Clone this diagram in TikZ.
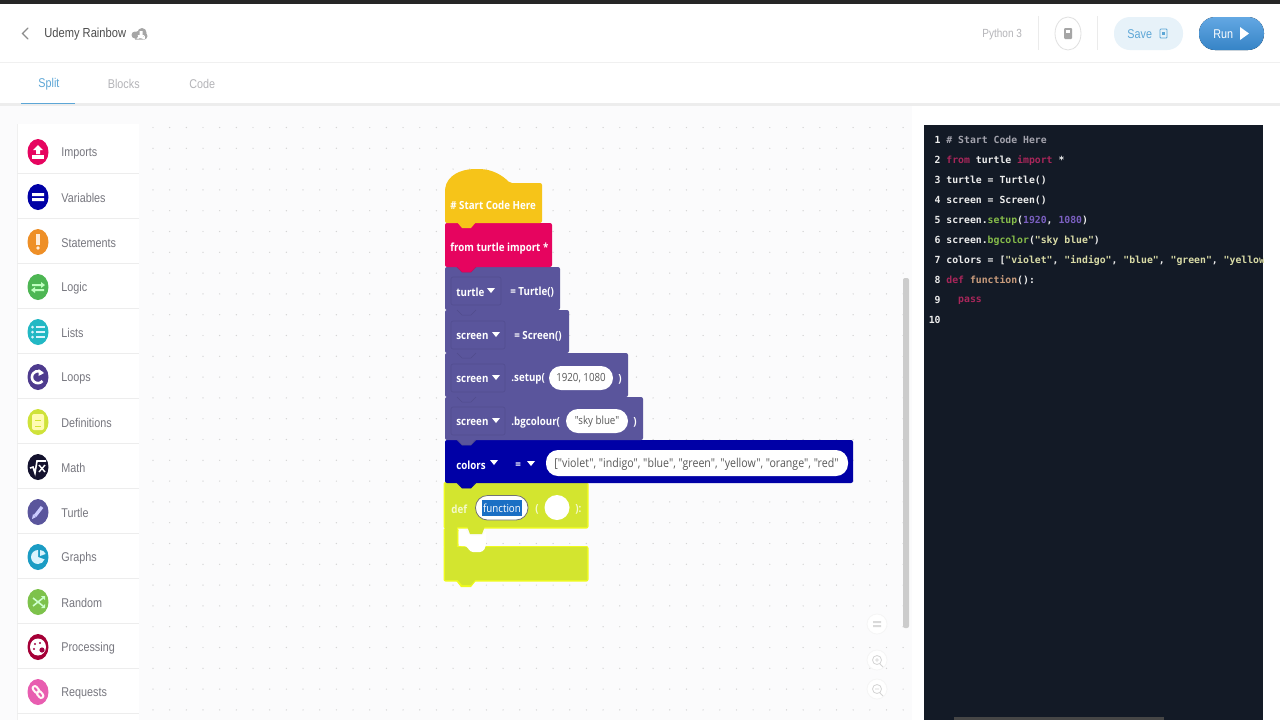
\documentclass[tikz,border=0pt]{standalone}
\usepackage{fontspec}
\setmainfont[FakeStretch=0.85]{Liberation Sans}
\setmonofont{DejaVu Sans Mono}
\newfontfamily\blockfont[FakeStretch=0.87]{Open Sans}
\definecolor{pagebg}{HTML}{FBFBFC}
\definecolor{hatyellow}{HTML}{F6C419}
\definecolor{importpink}{HTML}{E6045F}
\definecolor{turtlepurple}{HTML}{5A559C}
\definecolor{fielddark}{HTML}{524D90}
\definecolor{varblue}{HTML}{0000A6}
\definecolor{defgreen}{HTML}{D3E52F}
\definecolor{defedge}{HTML}{EEFA1E}
\definecolor{selblue}{HTML}{1A6FC4}
\definecolor{uiblue}{HTML}{5CA6D6}
\definecolor{runblue}{HTML}{3C92DC}
\definecolor{uigray}{HTML}{B4B4B8}
\definecolor{rowtext}{HTML}{77777F}
\definecolor{codebg}{HTML}{131A26}
\definecolor{codewhite}{HTML}{EDEDED}
\definecolor{codekey}{HTML}{A8265A}
\definecolor{codegreen}{HTML}{86BC4A}
\definecolor{codenum}{HTML}{7A5FC0}
\definecolor{codestr}{HTML}{D9DBA6}
\definecolor{codefun}{HTML}{C99C7C}
\definecolor{codenote}{HTML}{A3A3AD}
\tikzset{
    uitext/.style={anchor=west, inner sep=0pt, yshift=-0.4pt, font=\fontsize{6.35}{7}\selectfont},
    rowlabel/.style={uitext, text=rowtext},
    blocktext/.style={anchor=west, inner sep=0pt, yshift=-0.5pt, text=white, font=\blockfont\bfseries\fontsize{5.6}{6}\selectfont},
    slottext/.style={anchor=center, inner sep=0pt, text=black!65, font=\blockfont\fontsize{5.6}{6}\selectfont},
    codeline/.style={anchor=west, inner sep=0pt, yshift=-0.4pt, text=codewhite, font=\ttfamily\bfseries\fontsize{4.9}{6}\selectfont},
    codenumber/.style={anchor=east, inner sep=0pt, yshift=-0.4pt, text=codewhite, font=\ttfamily\bfseries\fontsize{4.9}{6}\selectfont}
}
\newcommand{\blockbody}[5]{%
    \fill[#1, rounded corners=1pt] (#2,#3) rectangle (#4,#5);
    \fill[#1] (457,#5-1) -- (462,#5+5) -- (471,#5+5) -- (476,#5-1) -- cycle;
    \draw[#1!90!black, line width=0.25pt] (457,#5) -- (462,#5+5) -- (471,#5+5) -- (476,#5);
}
\newcommand{\fieldmenu}[5]{%
    \draw[fielddark, line width=0.3pt, rounded corners=1pt] (451,#1-14) rectangle (#2,#1+14);
    \node[blocktext] (#3) at (456,#1) {#4};
    \fill[white] (#5-4,#1-3) -- (#5+4,#1-3) -- (#5,#1+2) -- cycle;
}
\begin{document}
\begin{tikzpicture}[x=0.5pt, y=-0.5pt]
    \useasboundingbox (0,0) rectangle (1280,720);
    \fill[white] (0,0) rectangle (1280,720);
    \fill[black!85] (0,0) rectangle (1280,4);
    \fill[pagebg] (0,104) rectangle (1280,720);
    \fill[black!7] (0,103) rectangle (1280,106);
    \fill[white] (0,63) rectangle (1280,103);
    \draw[black!6] (0,62) -- (1280,62);
    \fill[white] (912,106) rectangle (1280,720);
    % canvas dots
    \foreach \i in {0,...,45} {
        \foreach \j in {0,...,28} {
            \fill[black!17] (153+16.67*\i,127.5+20.8*\j) circle (0.7);
        }
    }
    % header
    \draw[black!45, line width=0.6pt, line cap=round] (28,28) -- (22.5,33.5) -- (28,39);
    \node[uitext, text=black!70, font=\fontsize{6.55}{7}\selectfont] (title) at (44,33.5) {Udemy Rainbow};
    \fill[black!35] (138,35) circle (4) (142,32.5) circle (4.5) (135,35) circle (3.5) (144,36) circle (3.5) (135,35) rectangle (145,39.5);
    \fill[white] (139.5,31) rectangle (142.5,35) (137.5,35) -- (144.5,35) -- (141,38.5) -- cycle;
    \node[uitext, text=uiblue] (tabsplit) at (38,83) {Split};
    \node[uitext, text=uigray] (tabblocks) at (107.5,83) {Blocks};
    \node[uitext, text=uigray] (tabcode) at (189,83) {Code};
    \fill[uiblue] (21,103) rectangle (75,104.2);
    \node[uitext, text=uigray, font=\fontsize{5.9}{7}\selectfont] (python) at (982,33.5) {Python 3};
    \draw[black!8] (1038,16) -- (1038,50) (1097,16) -- (1097,50);
    \draw[black!12, fill=white] (1068,33.5) ellipse (13 and 16.5);
    \fill[black!35, rounded corners=0.5pt] (1064,28) rectangle (1072,39);
    \fill[white] (1066,30) rectangle (1070,33);
    \fill[uiblue!15, rounded corners=8pt] (1114,17) rectangle (1183,50);
    \node[uitext, text=uiblue] (save) at (1127,33.5) {Save};
    \draw[uiblue, line width=0.4pt, rounded corners=0.4pt] (1160,29) rectangle (1167,38);
    \fill[uiblue] (1162,32) rectangle (1165,35);
    \fill[top color=runblue!80!white, bottom color=runblue!90!black, rounded corners=8pt] (1199,17) rectangle (1264,50);
    \node[uitext, text=white] (run) at (1213,33.5) {Run};
    \fill[white] (1240,27) -- (1249,33.5) -- (1240,40) -- cycle;
    % palette rows
    \fill[white] (17,124) rectangle (139,720);
    \draw[black!6] (17,124) -- (17,720);
    \foreach \rowname/\rowcolor [count=\k from 0] in {Imports/E6045F, Variables/0000A6, Statements/EE8F27, Logic/4DB653, Lists/22B8C4, Loops/4E3B8E, Definitions/CFE23A, Math/14122E, Turtle/5A559C, Graphs/1B9CC4, Random/7DC24B, Processing/A50037, Requests/E85DB0} {
        \definecolor{rowfill}{HTML}{\rowcolor}
        \fill[rowfill] (38,152+45*\k) ellipse (10.5 and 13);
        \node[rowlabel] (row\rowname) at (61,152.5+45*\k) {\rowname};
        \draw[black!7] (17,173+45*\k) -- (139,173+45*\k);
    }
    % palette glyphs
    \begin{scope}[shift={(38,152)}]
        \fill[white] (0,-7) -- (5,-2) -- (2,-2) -- (2,2) -- (-2,2) -- (-2,-2) -- (-5,-2) -- cycle;
        \fill[white] (-6,3) rectangle (6,7);
    \end{scope}
    \begin{scope}[shift={(38,197)}]
        \fill[white] (-6,-4) rectangle (6,-1) (-6,1) rectangle (6,4);
    \end{scope}
    \begin{scope}[shift={(38,242)}]
        \fill[white!85!orange] (-1.6,-8) rectangle (1.6,3);
        \fill[white!85!orange] (0,6) circle (1.9);
    \end{scope}
    \begin{scope}[shift={(38,287)}]
        \fill[white!75!green] (-6,-3) rectangle (3,-1) (3,-5) -- (7,-2) -- (3,1) -- cycle;
        \fill[white!75!green] (-3,2) rectangle (6,4) (-3,0) -- (-7,3) -- (-3,6) -- cycle;
    \end{scope}
    \begin{scope}[shift={(38,332)}]
        \foreach \ly in {-5,0,5} {
            \fill[white!85!cyan] (-5.5,\ly) circle (1.5);
            \fill[white!85!cyan] (-2.5,\ly-1.2) rectangle (6.5,\ly+1.2);
        }
    \end{scope}
    \begin{scope}[shift={(38,377)}]
        \draw[white, line width=1.3pt] (4.5,4) arc (40:320:6);
        \fill[white] (0.5,-8) -- (6,-4) -- (0.5,-1) -- cycle;
    \end{scope}
    \begin{scope}[shift={(38,422)}]
        \fill[white!70!yellow, rounded corners=1pt] (-6,-8) rectangle (6,8);
        \draw[defgreen, line width=0.4pt] (-3,-2) -- (3,-2) (-3,4) -- (3,4);
    \end{scope}
    \begin{scope}[shift={(38,467)}]
        \draw[white, line width=0.8pt] (-8,1) -- (-5,0) -- (-3,6) -- (-1,-6) -- (8,-6);
        \draw[white, line width=0.7pt] (1,-2) -- (7,5) (7,-2) -- (1,5);
    \end{scope}
    \begin{scope}[shift={(38,512)}]
        \draw[white!80!blue, line width=1.6pt] (-3,4) -- (4,-5);
        \fill[white!80!blue] (-6,7) -- (-5,2) -- (-2,5) -- cycle;
    \end{scope}
    \begin{scope}[shift={(38,557)}]
        \fill[white!85!cyan] (0,0) -- (0,-7) arc (-90:-340:7) -- cycle;
        \fill[white!85!cyan] (2,-7) arc (-90:-20:6) -- (2,-1) -- cycle;
    \end{scope}
    \begin{scope}[shift={(38,602)}]
        \draw[white!80!green, line width=0.8pt] (-5,-4) -- (5,4) (-5,4) -- (5,-4);
        \fill[white!80!green] (3,-6) -- (7,-6) -- (7,-2) -- cycle (3,6) -- (7,6) -- (7,2) -- cycle;
    \end{scope}
    \begin{scope}[shift={(38,647)}]
        \fill[white] (0,0) ellipse (8 and 8.5);
        \fill[importpink!70!black] (4,3) circle (2.6) (-3,-3) circle (1.2) (2,-4) circle (1.2) (-4,2) circle (1.2);
    \end{scope}
    \begin{scope}[shift={(38,692)}]
        \draw[white!85!pink, line width=1pt, rounded corners=1pt, rotate=-50] (-7,-2.2) rectangle (0.5,2.2);
        \draw[white!85!pink, line width=1pt, rounded corners=1pt, rotate=-50] (-0.5,-2.2) rectangle (7,2.2);
    \end{scope}
    % stacked blocks, lowest first so that each tab lies on the next one
    \fill[defedge, rounded corners=1pt] (443.5,482) rectangle (588.5,528.5);
    \fill[defedge, rounded corners=1pt] (443.5,528) rectangle (458.5,548);
    \fill[defedge, rounded corners=1pt] (443.5,546) rectangle (588.5,581.5);
    \fill[defedge] (455.5,580) -- (461,587) -- (471,587) -- (476.5,580) -- cycle;
    \fill[defgreen] (445,483) rectangle (587,527) (445,527) rectangle (457,547) (445,547) rectangle (587,580);
    \fill[defgreen] (457,579) -- (462,585) -- (471,585) -- (476,579) -- cycle;
    \fill[defgreen] (467,526) -- (470,534) -- (482,534) -- (485,526) -- cycle;
    \fill[white, rounded corners=1.5pt] (458.5,529) -- (466,529) -- (469,535.5) -- (483,535.5) -- (486,530) -- (486,546) -- (483,552) -- (470,552) -- (467,546) -- (458.5,546) -- cycle;
    \blockbody{varblue}{445}{440}{853}{483}
    \blockbody{turtlepurple}{445}{397}{643}{440}
    \blockbody{turtlepurple}{445}{353}{628}{397}
    \blockbody{turtlepurple}{445}{310}{569}{353}
    \blockbody{turtlepurple}{445}{267}{560}{310}
    \blockbody{importpink}{445}{223}{552}{267}
    \fill[hatyellow, rounded corners=1pt] (445,223) -- (445,190) .. controls (447,176) and (460,169) .. (477,169) .. controls (493,169) and (503,176) .. (510,183) -- (542,183) -- (542,223) -- cycle;
    \fill[hatyellow] (457,222) -- (462,228) -- (471,228) -- (476,222) -- cycle;
    % block texts
    \node[blocktext] (starthere) at (450,204.5) {\# Start Code Here};
    \node[blocktext] (fromimport) at (450,248) {from turtle import *};
    \fieldmenu{291}{501}{varturtle}{turtle}{491}
    \node[blocktext] (turtlecall) at (510,291) {= Turtle()};
    \fieldmenu{335}{505}{varscreen}{screen}{496}
    \node[blocktext] (screencall) at (514,335) {= Screen()};
    \fieldmenu{378}{505}{varsetup}{screen}{496}
    \node[blocktext] (setupcall) at (511,378) {.setup(};
    \fill[white, rounded corners=6pt] (549,366) rectangle (613,390);
    \node[slottext] (setupsize) at (581,378) {1920, 1080};
    \node[blocktext] (setupend) at (618,378) {)};
    \fieldmenu{421}{505}{varcolour}{screen}{496}
    \node[blocktext] (colourcall) at (511,421.5) {.bgcolour(};
    \fill[white, rounded corners=6pt] (566,409) rectangle (628,433);
    \node[slottext] (skyblue) at (597,421.5) {"sky blue"};
    \node[blocktext] (colourend) at (633,421.5) {)};
    \node[blocktext] (varcolors) at (456,464.5) {colors};
    \fill[white] (490,460) -- (498,460) -- (494,465) -- cycle;
    \node[blocktext] (vareq) at (515,464.5) {=};
    \fill[white] (527,461) -- (535,461) -- (531,466) -- cycle;
    \fill[white, rounded corners=6pt] (546,450) rectangle (848,476);
    \node[slottext, font=\blockfont\fontsize{6.1}{6}\selectfont] (colorlist) at (696.5,464.5) {["violet", "indigo", "blue", "green", "yellow", "orange", "red"};
    \node[blocktext, text=white!75!defgreen] (defword) at (451,508) {def};
    \draw[black!55, fill=white, rounded corners=6pt] (475.5,495.5) rectangle (528,520);
    \fill[selblue] (482,500) rectangle (522,516);
    \node[slottext, text=white] (funcname) at (502,508) {function};
    \node[blocktext, text=white!75!defgreen] (defopen) at (535,508) {(};
    \fill[white] (557,507.5) circle (12.5);
    \node[blocktext, text=white!75!defgreen] (defclose) at (575,508) {):};
    % canvas controls
    \fill[black!20, rounded corners=1pt] (903,278) rectangle (909,628);
    \foreach \cy in {624,660,689} {
        \draw[black!4, fill=white] (877,\cy) circle (10);
    }
    \fill[black!15] (873,621) rectangle (881,623) (873,625) rectangle (881,627);
    \draw[black!17, line width=0.4pt] (877,660) circle (4.5) (880,664) -- (883,667) (875,660) -- (879,660) (877,658) -- (877,662);
    \draw[black!17, line width=0.4pt] (877,689) circle (4.5) (880,693) -- (883,696) (875,689) -- (879,689);
    % code pane
    \fill[codebg] (924,125) rectangle (1263,720);
    \fill[black!45!gray] (954,717) rectangle (1164,720);
    \foreach \lineno in {1,...,10} {
        \node[codenumber] (num\lineno) at (941,119.5+20*\lineno) {\lineno};
    }
    \begin{scope}
        \clip (924,125) rectangle (1263,720);
        \node[codeline] (code1) at (946,139.5) {\textcolor{codenote}{\# Start Code Here}};
        \node[codeline] (code2) at (946,159.5) {\textcolor{codekey}{from} turtle \textcolor{codekey}{import} *};
        \node[codeline] (code3) at (946,179.5) {turtle = Turtle()};
        \node[codeline] (code4) at (946,199.5) {screen = Screen()};
        \node[codeline] (code5) at (946,219.5) {screen.\textcolor{codegreen}{setup}(\textcolor{codenum}{1920}, \textcolor{codenum}{1080})};
        \node[codeline] (code6) at (946,239.5) {screen.\textcolor{codegreen}{bgcolor}(\textcolor{codestr}{"sky blue"})};
        \node[codeline] (code7) at (946,259.5) {colors = [\textcolor{codestr}{"violet"}, \textcolor{codestr}{"indigo"}, \textcolor{codestr}{"blue"}, \textcolor{codestr}{"green"}, \textcolor{codestr}{"yellow"}};
        \node[codeline] (code8) at (946,279.5) {\textcolor{codekey}{def} \textcolor{codefun}{function}():};
        \node[codeline] (code9) at (957.8,299.5) {\textcolor{codekey}{pass}};
    \end{scope}
\end{tikzpicture}
\end{document}
